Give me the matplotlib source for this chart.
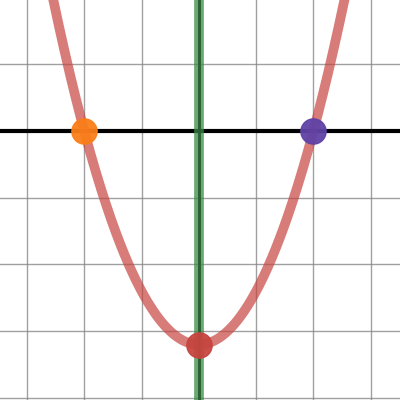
import numpy as np
import matplotlib
matplotlib.use("Agg")
import matplotlib.pyplot as plt

a = 0.8
c = -3.2
roots_x = [-2.0, 2.0]
vertex = (0.0, -3.2)
grid_x = [-3, -2, -1, 0, 1, 2, 3]
grid_y = [-4, -3, -2, -1, 0, 1]

fig = plt.figure(figsize=(4, 4), dpi=100)
ax = fig.add_axes([0, 0, 1, 1])
ax.set_xlim(-3.47, 3.51)
ax.set_ylim(-4.03, 1.96)
ax.axis('off')
for gx in grid_x:
    ax.axvline(gx, color='#888888', lw=1, alpha=0.8, zorder=0)
for gy in grid_y:
    ax.axhline(gy, color='#888888', lw=1, alpha=0.8, zorder=0)
ax.axhline(0, color='black', lw=3, zorder=1)
ax.axvline(0, color='black', lw=2, zorder=1)
x = np.linspace(-3.5, 3.5, 400)
ax.plot(x, a * x**2 + c, color='#c74440', lw=7, alpha=0.7, zorder=2, solid_capstyle='round')
ax.axvline(vertex[0], color='#388c46', lw=7, alpha=0.75, zorder=3)
ax.axvline(vertex[0], color='#2d5e33', lw=2, alpha=0.8, zorder=3)
ax.scatter([roots_x[0]], [0], s=330, color='#fa7e19', zorder=4, alpha=0.95)
ax.scatter([roots_x[1]], [0], s=330, color='#6042a6', zorder=4, alpha=0.95)
ax.scatter([vertex[0]], [vertex[1]], s=330, color='#c74440', zorder=4, alpha=0.95)
fig.savefig('out.png', dpi=100)
